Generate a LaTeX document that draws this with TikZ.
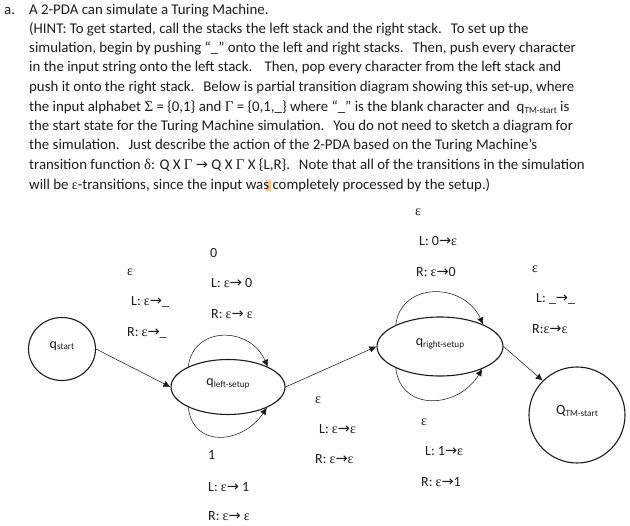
\documentclass[tikz,border=0pt]{standalone}
\usepackage{fontspec}
\usetikzlibrary{shapes.geometric,arrows.meta}
\setmainfont{Carlito}
\newfontfamily\symf{Liberation Serif}
\newfontfamily\arrf{DejaVu Sans}
\newcommand{\eps}{{\symf\fontsize{14}{14}\selectfont ε}}
\newcommand{\tarr}{{\arrf\fontsize{14.5}{14}\selectfont →}}
\newcommand{\gam}{{\symf Γ}}
\newcommand{\sig}{{\symf Σ}}
\newcommand{\dlt}{{\symf δ}}
\newcommand{\lowtxt}[1]{\raisebox{-0.25ex}{\fontsize{9.2}{9}\selectfont #1}}
\newcommand{\gp}{\hspace{0.6em}}
\definecolor{ink}{HTML}{1C1C1C}
\tikzset{
  txt/.style={inner sep=0pt,anchor=base west,text=ink,font=\fontsize{14.85}{15}\selectfont},
  lab/.style={inner sep=0pt,anchor=base west,text=ink,font=\fontsize{14}{15}\selectfont},
  statecirc/.style={ellipse,draw=ink,line width=1.1pt,inner sep=0pt,fill=white},
  statename/.style={inner sep=0pt,anchor=center,text=ink,font=\fontsize{14}{15}\selectfont},
  trans/.style={draw=ink,line width=0.55pt,-{Latex[length=7pt,width=6.5pt]}},
}
\begin{document}
\begin{tikzpicture}[x=1pt,y=-1pt]
\useasboundingbox (0,0) rectangle (630,526);
\fill[orange!45!white] (265.5,180) rectangle (270.5,191);
\node[txt] (a0) at (4,15) {a.};
\node[txt] (t1) at (29,15) {A 2-PDA can simulate a Turing Machine.};
\node[txt] (t2) at (29,34) {(HINT: To get started, call the stacks the left stack and the right stack.\gp To set up the};
\node[txt] (t3) at (29,53) {simulation, begin by pushing “\_” onto the left and right stacks.\gp Then, push every character};
\node[txt] (t4) at (29,72) {in the input string onto the left stack.\gp\ Then, pop every character from the left stack and};
\node[txt] (t5) at (29,92) {push it onto the right stack.\gp Below is partial transition diagram showing this set-up, where};
\node[txt] (t6) at (29,112) {the input alphabet \sig\ = \{0,1\} and \gam\ = \{0,1,\_\} where “\_” is the blank character and \ q\lowtxt{TM-start} is};
\node[txt] (t7) at (29,131) {the start state for the Turing Machine simulation.\gp You do not need to sketch a diagram for};
\node[txt] (t8) at (29,150) {the simulation.\gp Just describe the action of the 2-PDA based on the Turing Machine’s};
\node[txt] (t9) at (29,170) {transition function \dlt: Q X \gam\ \tarr\ Q X \gam\ X \{L,R\}.\gp Note that all of the transitions in the simulation};
\node[txt] (t10) at (29,190) {will be \eps-transitions, since the input was completely processed by the setup.)};

\node[statecirc,minimum width=67pt,minimum height=63pt] (qstart) at (62,349) {};
\node[statecirc,minimum width=114pt,minimum height=55pt] (qleft) at (228,387) {};
\node[statecirc,minimum width=126pt,minimum height=59pt] (qright) at (440,346.5) {};
\node[statecirc,circle,minimum width=96pt] (qtm) at (577,415) {};

\node[statename] (nstart) at (62,346) {q\lowtxt{start}};
\node[statename] (nleft) at (228,384) {q\lowtxt{left-setup}};
\node[statename] (nright) at (440,344) {q\lowtxt{right-setup}};
\node[statename] (ntm) at (577,411) {Q\lowtxt{TM-start}};

\draw[trans] (qstart.east) -- (qleft.west);
\draw[trans] (qleft.east) -- (qright.west);
\draw[trans] (qright.east) -- (qtm.135);
\draw[trans] (qleft.153) .. controls +(5,-41) and +(-18,-41) .. (qleft.27);
\draw[trans] (qleft.207) .. controls +(5,42) and +(-24,36) .. (qleft.332);
\draw[trans] (qright.154) .. controls +(5,-43) and +(-20,-43) .. (qright.27);
\draw[trans] (qright.206) .. controls +(5,44) and +(-24,40) .. (qright.332);

\node[lab] (a1) at (127,276) {\eps};
\node[lab] (a2) at (131,306) {L: \eps\tarr\_};
\node[lab] (a3) at (127,337) {R: \eps\tarr\_};
\node[lab] (b1) at (210,258) {0};
\node[lab] (b2) at (211,288) {L: \eps\tarr\ 0};
\node[lab] (b3) at (211,319) {R: \eps\tarr\ \eps};
\node[lab] (c1) at (208,460) {1};
\node[lab] (c2) at (208,492) {L: \eps\tarr\ 1};
\node[lab] (c3) at (208,521) {R: \eps\tarr\ \eps};
\node[lab] (d1) at (315,404) {\eps};
\node[lab] (d2) at (319,434) {L: \eps\tarr\eps};
\node[lab] (d3) at (315,464) {R: \eps\tarr\eps};
\node[lab] (e1) at (415,216) {\eps};
\node[lab] (e2) at (419,246) {L: 0\tarr\eps};
\node[lab] (e3) at (416,277) {R: \eps\tarr0};
\node[lab] (f1) at (421,426) {\eps};
\node[lab] (f2) at (425,456) {L: 1\tarr\eps};
\node[lab] (f3) at (421,487) {R: \eps\tarr1};
\node[lab] (g1) at (532,273) {\eps};
\node[lab] (g2) at (536,303) {L: \_\tarr\_};
\node[lab] (g3) at (532,334) {R:\eps\tarr\eps};
\end{tikzpicture}
\end{document}
